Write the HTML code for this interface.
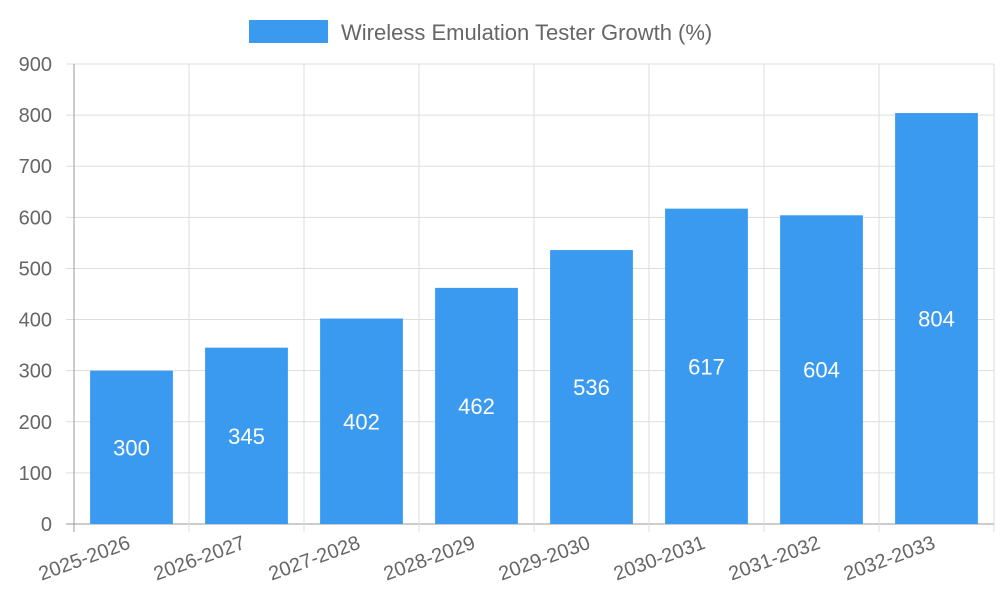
<!DOCTYPE html>
<html><head><meta charset="utf-8"><style>
body{margin:0;background:#fff;font-family:"Liberation Sans",sans-serif}
svg text{font-family:"Liberation Sans",sans-serif}
</style></head><body>
<svg id="chart" width="1000" height="600" xmlns="http://www.w3.org/2000/svg">
<g>
<rect x="249" y="20" width="79" height="23" fill="#3a9af0"/>
<text x="341" y="40" font-size="22" fill="#666">Wireless Emulation Tester Growth (%)</text>
</g>
<g id="grid"></g>
<g id="bars"></g>
<g id="xlabels"></g>
<g id="ylabels"></g>
</svg>
<script>
const categories=["2025-2026","2026-2027","2027-2028","2028-2029","2029-2030","2030-2031","2031-2032","2032-2033"];
const values=[300,345,402,462,536,617,604,804];
const yTicks=[0,100,200,300,400,500,600,700,800,900];
const NS="http://www.w3.org/2000/svg";
const L=74,R=994,T=64,B=524,yMax=900;
const bw=(R-L)/categories.length;
const y=v=>B-(v/yMax)*(B-T);
const x=i=>L+bw*i;
function mk(tag,attrs,parent,txt){const e=document.createElementNS(NS,tag);for(const k in attrs)e.setAttribute(k,attrs[k]);if(txt!==undefined)e.textContent=txt;parent.appendChild(e);return e;}
const grid=document.getElementById('grid'),bars=document.getElementById('bars'),xl=document.getElementById('xlabels'),yl=document.getElementById('ylabels');
yTicks.forEach(t=>{
 const g=mk('line',{x1:L-8,x2:R,y1:y(t),y2:y(t),stroke:t===0?'#999':'#ddd','stroke-width':1},grid);
 
 
 const tx=mk('text',{x:52,y:y(t)+7,'text-anchor':'end','font-size':20,fill:'#666'},yl,String(t));
 
 
});
for(let i=0;i<=categories.length;i++){
 const g=mk('line',{x1:x(i),x2:x(i),y1:T,y2:B+8,stroke:i===0?'#999':'#ddd','stroke-width':1},grid);
 
 
}
categories.forEach((c,i)=>{
 const w=bw*0.72,cx=x(i)+bw/2;
 const r=mk('rect',{x:cx-w/2,y:y(values[i]),width:w,height:B-y(values[i]),fill:'#3a9af0'},bars);
 
 
 const v=mk('text',{x:cx,y:(y(values[i])+B)/2+8,'text-anchor':'middle','font-size':22,fill:'#fff'},bars,String(values[i]));
 
 
 const t=mk('text',{x:cx,y:548,'text-anchor':'end','font-size':20,fill:'#666',transform:`rotate(-20 ${cx} 548)`},xl,c);
 
 
});
</script>
</body></html>
